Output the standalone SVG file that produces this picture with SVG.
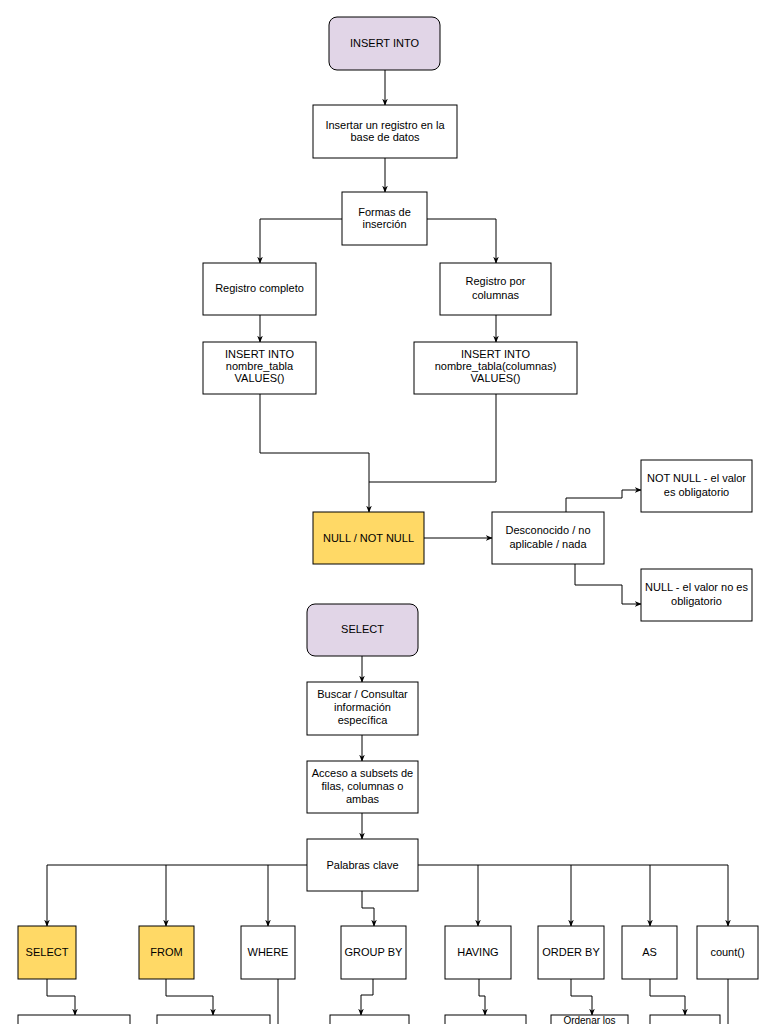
<svg xmlns="http://www.w3.org/2000/svg" width="768" height="1024" viewBox="0 0 768 1024">
<defs>
<marker id="a" viewBox="0 0 10 10" refX="9" refY="5" markerWidth="7" markerHeight="7" orient="auto"><path d="M0,1 L10,5 L0,9 L3,5 Z" fill="#000"/></marker>
<style>
.n{fill:#fff;stroke:#000;stroke-width:1}
.p{fill:#e1d5e7;stroke:#000;stroke-width:1}
.y{fill:#ffd966;stroke:#000;stroke-width:1}
text{font-family:"Liberation Sans",Arial,sans-serif;font-size:11px;text-anchor:middle;fill:#000}
.c path{fill:none;stroke:#000;stroke-width:1}
.c .ar{marker-end:url(#a)}
</style>
</defs>
<rect width="768" height="1024" fill="#fff"/>
<g class="c">
<path class="ar" d="M385,70 V105"/>
<path class="ar" d="M385,158 V192"/>
<path class="ar" d="M342,219 H260 V263"/>
<path class="ar" d="M427,219 H496 V263"/>
<path class="ar" d="M260,315 V342"/>
<path class="ar" d="M496,315 V342"/>
<path class="ar" d="M260,394 V453 H369 V512"/>
<path d="M496,394 V482 H369"/>
<path class="ar" d="M424,538 H492"/>
<path class="ar" d="M566,512 V498 H622 V490 H641"/>
<path class="ar" d="M575,564 V585 H622 V604 H641"/>
<path class="ar" d="M362,656 V682"/>
<path class="ar" d="M362,735 V761"/>
<path class="ar" d="M362,813 V839"/>
<path class="ar" d="M307,865 H47 V926"/>
<path class="ar" d="M166,865 V926"/>
<path class="ar" d="M268,865 V926"/>
<path class="ar" d="M418,865 H728 V926"/>
<path class="ar" d="M478,865 V926"/>
<path class="ar" d="M571,865 V926"/>
<path class="ar" d="M650,865 V926"/>
<path class="ar" d="M362,891 V908 H374 V926"/>
<path class="ar" d="M47,979 V996 H75 V1015"/>
<path class="ar" d="M166,979 V996 H213 V1015"/>
<path d="M278,979 V1024"/>
<path class="ar" d="M373,979 V995 H361 V1015"/>
<path class="ar" d="M479,979 V996 H485 V1015"/>
<path class="ar" d="M571,979 V996 H592 V1015"/>
<path class="ar" d="M650,979 V996 H685 V1015"/>
<path d="M728,979 V1024"/>
</g>
<g id="insert"><rect class="p" x="329" y="17" width="111" height="53" rx="8"/><text x="384.5" y="47">INSERT INTO</text></g>
<g id="insertar"><rect class="n" x="313" y="105" width="144" height="53"/><text x="385" y="129">Insertar un registro en la</text><text x="385" y="141">base de datos</text></g>
<g id="formas"><rect class="n" x="342" y="192" width="85" height="53"/><text x="384.5" y="216">Formas de</text><text x="384.5" y="228">inserción</text></g>
<g id="completo"><rect class="n" x="203" y="263" width="113" height="52"/><text x="259.5" y="292">Registro completo</text></g>
<g id="porcol"><rect class="n" x="440" y="263" width="111" height="52"/><text x="495.5" y="285">Registro por</text><text x="495.5" y="299">columnas</text></g>
<g id="ins1"><rect class="n" x="203" y="342" width="113" height="52"/><text x="259.5" y="358">INSERT INTO</text><text x="259.5" y="370">nombre_tabla</text><text x="259.5" y="382">VALUES()</text></g>
<g id="ins2"><rect class="n" x="414" y="342" width="163" height="52"/><text x="495.5" y="358">INSERT INTO</text><text x="495.5" y="370">nombre_tabla(columnas)</text><text x="495.5" y="382">VALUES()</text></g>
<g id="null"><rect class="y" x="313" y="512" width="111" height="52"/><text x="368.5" y="542">NULL / NOT NULL</text></g>
<g id="desc"><rect class="n" x="492" y="512" width="112" height="52"/><text x="548" y="534">Desconocido / no</text><text x="548" y="548">aplicable / nada</text></g>
<g id="notnull"><rect class="n" x="641" y="460" width="111" height="52"/><text x="696.5" y="482">NOT NULL - el valor</text><text x="696.5" y="496">es obligatorio</text></g>
<g id="nullbox"><rect class="n" x="641" y="569" width="111" height="52"/><text x="696.5" y="591">NULL - el valor no es</text><text x="696.5" y="605">obligatorio</text></g>
<g id="select"><rect class="p" x="307" y="604" width="111" height="52" rx="8"/><text x="362.5" y="633">SELECT</text></g>
<g id="buscar"><rect class="n" x="307" y="682" width="111" height="53"/><text x="362.5" y="698">Buscar / Consultar</text><text x="362.5" y="711">información</text><text x="362.5" y="724">específica</text></g>
<g id="acceso"><rect class="n" x="307" y="761" width="111" height="52"/><text x="362.5" y="777">Acceso a subsets de</text><text x="362.5" y="790">filas, columnas o</text><text x="362.5" y="803">ambas</text></g>
<g id="palabras"><rect class="n" x="307" y="839" width="111" height="52"/><text x="362.5" y="869">Palabras clave</text></g>
<g id="kselect"><rect class="y" x="18" y="926" width="58" height="53"/><text x="47" y="956">SELECT</text></g>
<g id="kfrom"><rect class="y" x="139" y="926" width="55" height="53"/><text x="166.5" y="956">FROM</text></g>
<g id="kwhere"><rect class="n" x="241" y="926" width="54" height="53"/><text x="268" y="956">WHERE</text></g>
<g id="kgroup"><rect class="n" x="341" y="926" width="65" height="53"/><text x="373.5" y="956">GROUP BY</text></g>
<g id="khaving"><rect class="n" x="445" y="926" width="66" height="53"/><text x="478" y="956">HAVING</text></g>
<g id="korder"><rect class="n" x="538" y="926" width="66" height="53"/><text x="571" y="956">ORDER BY</text></g>
<g id="kas"><rect class="n" x="622" y="926" width="55" height="53"/><text x="649.5" y="956">AS</text></g>
<g id="kcount"><rect class="n" x="697" y="926" width="61" height="53"/><text x="727.5" y="956">count()</text></g>
<g id="b1"><rect class="n" x="18" y="1015" width="112" height="20"/></g>
<g id="b2"><rect class="n" x="157" y="1015" width="113" height="20"/></g>
<g id="b3"><rect class="n" x="330" y="1015" width="79" height="20"/></g>
<g id="b4"><rect class="n" x="445" y="1015" width="81" height="20"/></g>
<g id="b5"><rect class="n" x="551" y="1015" width="77" height="20"/><text x="589.5" y="1024" style="font-size:10px">Ordenar los</text></g>
<g id="b6"><rect class="n" x="650" y="1015" width="70" height="20"/></g>
</svg>
